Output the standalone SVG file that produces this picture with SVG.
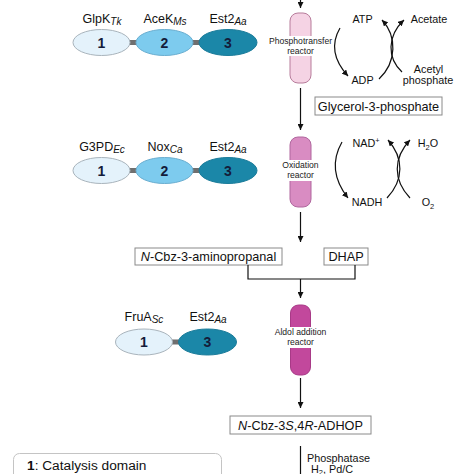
<svg xmlns="http://www.w3.org/2000/svg" width="474" height="474" viewBox="0 0 474 474">
<defs>
<marker id="ah" viewBox="0 0 10 10" refX="10" refY="5" markerWidth="6" markerHeight="6" orient="auto" markerUnits="userSpaceOnUse">
<path d="M0,0 L10,5 L0,10 Z" fill="#111"/>
</marker>
<style>
text{font-family:"Liberation Sans",Arial,sans-serif;fill:#111}
.lab{font-size:12.5px;text-anchor:middle}
.sub{font-style:italic;font-size:10px}
.num{font-size:14px;font-weight:bold;text-anchor:middle;fill:#141c3a}
.d1{fill:#e4f2fb;stroke:#a9b4bc;stroke-width:1}
.d2{fill:#7dcbee;stroke:#6aaed0;stroke-width:1}
.d3{fill:#1b87a8;stroke:#1b7c9a;stroke-width:1}
.lk{fill:#6f6f6f}
.rx{font-size:8.6px;text-anchor:middle;fill:#222}
.band{fill:#fff}
.box{fill:#fff;stroke:#8a8a8a;stroke-width:1}
.bt{font-size:12.7px}
.cy{font-size:10.8px;text-anchor:middle}
.ln{stroke:#111;stroke-width:1.2;fill:none}
.arr{stroke:#111;stroke-width:1.2;fill:none;marker-end:url(#ah)}
</style>
</defs>

<g id="enzyme-row1">
<rect class="lk" x="127" y="40" width="12" height="5"/>
<rect class="lk" x="190" y="40" width="12" height="5"/>
<ellipse class="d1" cx="101.5" cy="42.5" rx="28.5" ry="13"/>
<ellipse class="d2" cx="164.5" cy="42.5" rx="28.5" ry="13"/>
<ellipse class="d3" cx="228" cy="42.5" rx="29" ry="13"/>
<text class="num" x="101.5" y="47.5">1</text>
<text class="num" x="164.5" y="47.5">2</text>
<text class="num" x="228" y="47.5">3</text>
<text class="lab" x="102" y="23">GlpK<tspan class="sub" dy="2">Tk</tspan></text>
<text class="lab" x="165" y="23">AceK<tspan class="sub" dy="2">Ms</tspan></text>
<text class="lab" x="228" y="23">Est2<tspan class="sub" dy="2">Aa</tspan></text>
</g>

<g id="enzyme-row2">
<rect class="lk" x="127" y="168" width="12" height="5"/>
<rect class="lk" x="190" y="168" width="12" height="5"/>
<ellipse class="d1" cx="101.5" cy="170.5" rx="28.5" ry="13"/>
<ellipse class="d2" cx="164.5" cy="170.5" rx="28.5" ry="13"/>
<ellipse class="d3" cx="228" cy="170.5" rx="29" ry="13"/>
<text class="num" x="101.5" y="175.5">1</text>
<text class="num" x="164.5" y="175.5">2</text>
<text class="num" x="228" y="175.5">3</text>
<text class="lab" x="102" y="151">G3PD<tspan class="sub" dy="2">Ec</tspan></text>
<text class="lab" x="165" y="151">Nox<tspan class="sub" dy="2">Ca</tspan></text>
<text class="lab" x="228" y="151">Est2<tspan class="sub" dy="2">Aa</tspan></text>
</g>

<g id="enzyme-row3">
<rect class="lk" x="170" y="339.5" width="12" height="5"/>
<ellipse class="d1" cx="144" cy="342" rx="28.5" ry="13"/>
<ellipse class="d3" cx="207.5" cy="342" rx="29" ry="13"/>
<text class="num" x="144" y="347">1</text>
<text class="num" x="207.5" y="347">3</text>
<text class="lab" x="144" y="321">FruA<tspan class="sub" dy="2">Sc</tspan></text>
<text class="lab" x="208" y="321">Est2<tspan class="sub" dy="2">Aa</tspan></text>
</g>

<g id="reactor1">
<rect x="290" y="13" width="21" height="70" rx="8" fill="#f5d3e4" stroke="#b77c9b" stroke-width="1"/>
<rect class="band" x="266" y="36" width="69" height="20"/>
<text class="rx" x="300.5" y="44">Phosphotransfer</text>
<text class="rx" x="300.5" y="53.5">reactor</text>
</g>

<g id="reactor2">
<rect x="290" y="137" width="21" height="70" rx="8" fill="#d98cc2" stroke="#b0679e" stroke-width="1"/>
<rect class="band" x="280" y="160" width="41" height="21"/>
<text class="rx" x="300.5" y="168">Oxidation</text>
<text class="rx" x="300.5" y="177.5">reactor</text>
</g>

<g id="reactor3">
<rect x="290.5" y="305" width="20" height="70" rx="8" fill="#c2489c" stroke="#a83a87" stroke-width="1"/>
<rect class="band" x="271" y="327" width="60" height="21"/>
<text class="rx" x="300.5" y="335">Aldol addition</text>
<text class="rx" x="300.5" y="344.5">reactor</text>
</g>

<g id="glycerol3p">
<rect class="box" x="315" y="97" width="127" height="18"/>
<text class="bt" x="378.5" y="110.5" text-anchor="middle">Glycerol-3-phosphate</text>
</g>

<g id="aminopropanal">
<rect class="box" x="135" y="248" width="147" height="17"/>
<text class="bt" x="208.5" y="261" text-anchor="middle"><tspan font-style="italic">N</tspan>-Cbz-3-aminopropanal</text>
</g>

<g id="dhap">
<rect class="box" x="324" y="248" width="44" height="17"/>
<text class="bt" x="346" y="261" text-anchor="middle">DHAP</text>
</g>

<g id="adhop">
<rect class="box" x="230" y="416" width="141" height="18"/>
<text class="bt" x="300.5" y="429.5" text-anchor="middle"><tspan font-style="italic">N</tspan>-Cbz-3<tspan font-style="italic">S</tspan>,4<tspan font-style="italic">R</tspan>-ADHOP</text>
</g>

<g id="cycle1">
<text class="cy" x="362.5" y="23">ATP</text>
<text class="cy" x="429" y="23">Acetate</text>
<text class="cy" x="362.5" y="84">ADP</text>
<text class="cy" x="428.5" y="73">Acetyl</text>
<text class="cy" x="428" y="84">phosphate</text>
</g>

<g id="cycle2">
<text class="cy" x="366" y="147">NAD<tspan font-size="7.5" dy="-4">+</tspan></text>
<text class="cy" x="428" y="147">H<tspan font-size="7.5" dy="3">2</tspan><tspan dy="-3">O</tspan></text>
<text class="cy" x="367" y="206">NADH</text>
<text class="cy" x="428" y="206">O<tspan font-size="7.5" dy="3">2</tspan></text>
</g>

<g id="legend">
<rect x="13.5" y="453.5" width="208" height="40" rx="6" fill="#fff" stroke="#c4c4c4" stroke-width="1"/>
<text x="27" y="470" font-size="13.7"><tspan font-weight="bold">1</tspan>: Catalysis domain</text>
</g>

<g id="connectors">
<line class="arr" x1="300.5" y1="0" x2="300.5" y2="8"/>
<line class="arr" x1="300.5" y1="88" x2="300.5" y2="130"/>
<line class="arr" x1="300.5" y1="212" x2="300.5" y2="242"/>
<polyline class="ln" points="248,265 248,279 355,279 355,265"/>
<line class="arr" x1="300.5" y1="279" x2="300.5" y2="298"/>
<line class="arr" x1="300.5" y1="378" x2="300.5" y2="408"/>
<line class="ln" x1="300.5" y1="446" x2="300.5" y2="474"/>
<path class="arr" d="M340,28 Q326,52 348,76"/>
<path class="arr" d="M379,79 C397,62 397,36 382,20"/>
<path class="arr" d="M402,72 C387,58 387,36 404,20"/>
<path class="arr" d="M342,142 Q326,170 348,198"/>
<path class="arr" d="M387,198 C404,180 404,158 388,140"/>
<path class="arr" d="M410,198 C393,180 393,158 410,140"/>
</g>

<g id="step-label">
<text x="307" y="462" font-size="10.8">Phosphatase</text>
<text x="311" y="473" font-size="10.8">H<tspan font-size="7.5" dy="2">2</tspan><tspan dy="-2">, Pd/C</tspan></text>
</g>
</svg>
